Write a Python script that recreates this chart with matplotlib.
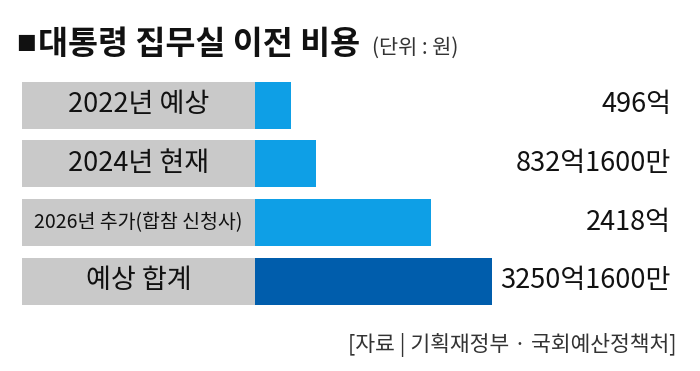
import matplotlib
matplotlib.use("Agg")
import matplotlib.pyplot as plt

plt.rcParams['font.family'] = ['Noto Sans CJK KR', 'DejaVu Sans']

# ---- data ----
categories = ["2022년 예상", "2024년 현재", "2026년 추가(합참 신청사)", "예상 합계"]
values_eok = [496, 832.16, 2418, 3250.16]          # 억 원
value_labels = ["496억", "832억1600만", "2418억", "3250억1600만"]
title = "대통령 집무실 이전 비용"
unit = "(단위 : 원)"
source = "[자료 | 기획재정부 · 국회예산정책처]"

# ---- styles ----
W, H = 700, 371
light_blue = "#0E9FE6"
dark_blue = "#005DAC"
gray = "#C9C9C9"
bar_colors = [light_blue, light_blue, light_blue, dark_blue]
label_sizes = [19.5, 19.5, 14, 19.5]

fig = plt.figure(figsize=(W / 100, H / 100), dpi=100)
fig.patch.set_facecolor("white")

def fx(px):
    return px / W

def fy(py):
    return 1 - py / H

# axes: left px 22, right px 700; rows centred at 105..281
row_top_c, row_bot_c = 105, 281
step = (row_bot_c - row_top_c) / 3
ax_top = row_top_c - step / 2
ax_bot = row_bot_c + step / 2
ax = fig.add_axes([fx(22), fy(ax_bot), fx(700) - fx(22), (ax_bot - ax_top) / H])
ax.set_axis_off()

zero_px = 255
px_per_unit = (492 - zero_px) / max(values_eok)
xmin = -(zero_px - 22) / px_per_unit
xmax = (700 - zero_px) / px_per_unit
ax.set_xlim(xmin, xmax)
ax.set_ylim(len(categories) - 0.5, -0.5)

ys = list(range(len(categories)))
bar_h = 47 / step
# gray label boxes
ax.barh(ys, [-xmin] * len(ys), left=xmin, height=bar_h, color=gray, linewidth=0)
# value bars
ax.barh(ys, values_eok, left=0, height=bar_h, color=bar_colors, linewidth=0)

for y, cat, fs in zip(ys, categories, label_sizes):
    ax.text(xmin / 2, y, cat, ha="center", va="center", fontsize=fs,
            color="#111111")

for y, lab in zip(ys, value_labels):
    ax.text((671 - zero_px) / px_per_unit, y, lab, ha="right", va="center",
            fontsize=19.5, color="#111111")

# title
fig.text(fx(36), fy(42), "■", fontsize=15, fontweight="bold",
         family=["DejaVu Sans"], va="center", ha="right", color="#111111")
fig.text(fx(38), fy(54), title, fontsize=23.5, fontweight="bold",
         va="baseline", ha="left", color="#111111")
fig.text(fx(372), fy(54), unit, fontsize=15, va="baseline", ha="left",
         color="#333333")

# source
fig.text(fx(677), fy(345), source, fontsize=15.5, va="center", ha="right",
         color="#333333")

fig.savefig("out.png", dpi=100, facecolor="white")
